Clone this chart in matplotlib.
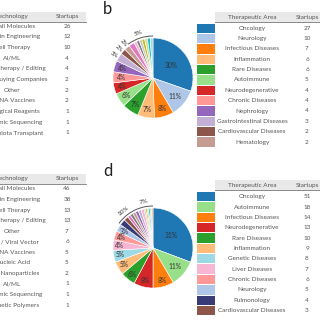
import matplotlib
matplotlib.use("Agg")
import matplotlib.pyplot as plt
from matplotlib.patches import Rectangle, Arc
import numpy as np

plt.rcParams['font.family'] = ['Lato', 'DejaVu Sans']

# ---------------- data ----------------
tech_b = ["Small Molecules", "Protein Engineering", "Cell Therapy", "AI/ML",
          "Gene Therapy / Editing", "Asset Buying Companies", "Other",
          "mRNA Vaccines", "Biological Reagents", "Genomic Sequencing",
          "Microbiota Transplant"]
tech_b_counts = [26, 12, 10, 4, 4, 2, 2, 2, 1, 1, 1]

area_b = ["Oncology", "Neurology", "Infectious Diseases", "Inflammation",
          "Rare Diseases", "Autoimmune", "Neurodegenerative", "Chronic Diseases",
          "Nephrology", "Gastrointestinal Diseases", "Cardiovascular Diseases",
          "Hematology"]
area_b_counts = [27, 10, 7, 6, 6, 5, 4, 4, 4, 3, 2, 2]
area_b_colors = ["#1f77b4", "#aec7e8", "#ff7f0e", "#ffbb78", "#2ca02c", "#98df8a",
                 "#d62728", "#ff9896", "#9467bd", "#c5b0d5", "#8c564b", "#c49c94"]
other_b_counts = [2, 1, 1, 1, 1, 1, 1, 1]
other_b_colors = ["#e377c2", "#f7b6d2", "#7f7f7f", "#c7c7c7", "#bcbd22",
                  "#dbdb8d", "#17becf", "#9edae5"]
group_b_label = "5%"

tech_d = ["Small Molecules", "Protein Engineering", "Cell Therapy",
          "Gene Therapy / Editing", "Other", "AAV / Viral Vector", "mRNA Vaccines",
          "Nucleic Acid", "Lipid Nanoparticles", "AI/ML", "Genomic Sequencing",
          "Synthetic Polymers"]
tech_d_counts = [46, 38, 13, 13, 7, 6, 5, 5, 2, 1, 1, 1]

area_d = ["Oncology", "Autoimmune", "Infectious Diseases", "Neurodegenerative",
          "Rare Diseases", "Inflammation", "Genetic Diseases", "Liver Diseases",
          "Chronic Diseases", "Neurology", "Pulmonology", "Cardiovascular Diseases"]
area_d_counts = [51, 18, 14, 13, 10, 9, 8, 7, 6, 5, 4, 3]
area_d_colors = ["#1f77b4", "#98df8a", "#ff7f0e", "#d62728", "#2ca02c", "#ffbb78",
                 "#9edae5", "#f7b6d2", "#ff9896", "#aec7e8", "#393b79", "#8c564b"]
other_d1_counts = [2, 2, 2, 2]
other_d1_colors = ["#e377c2", "#7f7f7f", "#c49c94", "#9467bd"]
other_d2_counts = [2, 2, 1, 1, 1, 1, 1, 1]
other_d2_colors = ["#c5b0d5", "#f7b6d2", "#c7c7c7", "#bcbd22", "#dbdb8d",
                   "#17becf", "#aec7e8", "#ffbb78"]
group_d_labels = ["10%", "7%"]

# ---------------- figure ----------------
W = H = 320
fig = plt.figure(figsize=(3.2, 3.2), dpi=100)
ax = fig.add_axes([0, 0, 1, 1])
ax.set_xlim(0, W)
ax.set_ylim(H, 0)
ax.axis("off")

TXT = "#555555"
FS = 4.6
BAND = "#e9e9e9"
LINE = "#777777"


def table(x_name, x_cnt, x0, x1, y_head, y_row0, dy, names, counts, head):
    ax.add_patch(Rectangle((x0, y_head - 5), x1 - x0, 10, color=BAND, lw=0, zorder=1))
    ax.plot([x0, x1], [y_head + 5, y_head + 5], color=LINE, lw=0.6, zorder=2)
    ax.text(x_name, y_head, head[0], ha="center", va="center", fontsize=FS, color=TXT, zorder=3)
    ax.text(x_cnt, y_head, head[1], ha="center", va="center", fontsize=FS, color=TXT, zorder=3)
    for i, (n, c) in enumerate(zip(names, counts)):
        y = y_row0 + i * dy
        ax.text(x_name, y, n, ha="center", va="center", fontsize=FS, color=TXT)
        ax.text(x_cnt, y, str(c), ha="center", va="center", fontsize=FS, color=TXT)


def legend_table(y_head, y_row0, dy, names, counts, colors):
    table(252, 307, 215, 325, y_head, y_row0, dy, names, counts,
          ("Therapeutic Area", "Startups"))
    for i, col in enumerate(colors):
        y = y_row0 + i * dy
        ax.add_patch(Rectangle((197, y - dy / 2 + 0.5), 18, dy - 1, color=col, lw=0))


# left tables
table(12.5, 67, -5, 86, 16.5, 26, 10.7, tech_b, tech_b_counts, ("Technology", "Startups"))
table(12.5, 67, -5, 86, 178.5, 189, 10.55, tech_d, tech_d_counts, ("Technology", "Startups"))

# right legend tables
legend_table(17, 28.2, 10.35, area_b, area_b_counts, area_b_colors)
legend_table(185, 196.7, 10.35, area_d, area_d_counts, area_d_colors)

ax.text(108, 9, "b", ha="center", va="center", fontsize=12, color="#222222")
ax.text(108, 171, "d", ha="center", va="center", fontsize=12, color="#222222")


def pie(cx, cy, values, colors, n_inside, outside_idx, groups, small_r):
    R = 40.0
    lim = 1.35
    size = 2 * R * lim
    pax = fig.add_axes([(cx - size / 2) / W, (H - cy - size / 2) / H, size / W, size / H])
    wedges, _ = pax.pie(values, colors=colors, startangle=90, counterclock=False,
                        wedgeprops=dict(linewidth=0.4, edgecolor="white"))
    pax.set_xlim(-lim, lim)
    pax.set_ylim(-lim, lim)
    pax.set_aspect("equal")
    pax.axis("off")
    total = float(sum(values))
    for i in range(n_inside):
        w = wedges[i]
        a = np.deg2rad((w.theta1 + w.theta2) / 2)
        pct = 100 * values[i] / total
        r = 0.55 if pct > 20 else (0.72 if pct > 9 else small_r)
        pax.text(r * np.cos(a), r * np.sin(a), f"{pct:.0f}%",
                 ha="center", va="center", fontsize=4.8, color="#333333")
    for i in outside_idx:
        w = wedges[i]
        m = (w.theta1 + w.theta2) / 2
        a = np.deg2rad(m)
        r = 1.13
        pax.text(r * np.cos(a), r * np.sin(a), f"{100 * values[i] / total:.0f}%",
                 ha="center", va="center", fontsize=4.2, color="#333333",
                 rotation=m - 180, rotation_mode="anchor")
    for (i0, i1, lab) in groups:
        t1 = min(wedges[i0].theta1, wedges[i0].theta2, wedges[i1].theta1, wedges[i1].theta2)
        t2 = max(wedges[i0].theta1, wedges[i0].theta2, wedges[i1].theta1, wedges[i1].theta2)
        pax.add_patch(Arc((0, 0), 2.1, 2.1, theta1=t1, theta2=t2, color="#555555", lw=0.7))
        m = (t1 + t2) / 2
        a = np.deg2rad(m)
        r = 1.18
        pax.text(r * np.cos(a), r * np.sin(a), lab, ha="center", va="center",
                 fontsize=4.6, color="#333333", rotation=m - 90)


vals_b = area_b_counts + other_b_counts
cols_b = area_b_colors + other_b_colors
nb = len(area_b_counts)
pie(153, 78, vals_b, cols_b, 9, [9, 10, 11], [(nb, len(vals_b) - 1, group_b_label)], 0.79)

vals_d = area_d_counts + other_d1_counts + other_d2_counts
cols_d = area_d_colors + other_d1_colors + other_d2_colors
g1_end = len(area_d_counts) + len(other_d1_counts) - 1
pie(153, 248, vals_d, cols_d, 10, [],
    [(10, g1_end, group_d_labels[0]), (g1_end + 1, len(vals_d) - 1, group_d_labels[1])], 0.84)

fig.savefig("out.png", dpi=100)
